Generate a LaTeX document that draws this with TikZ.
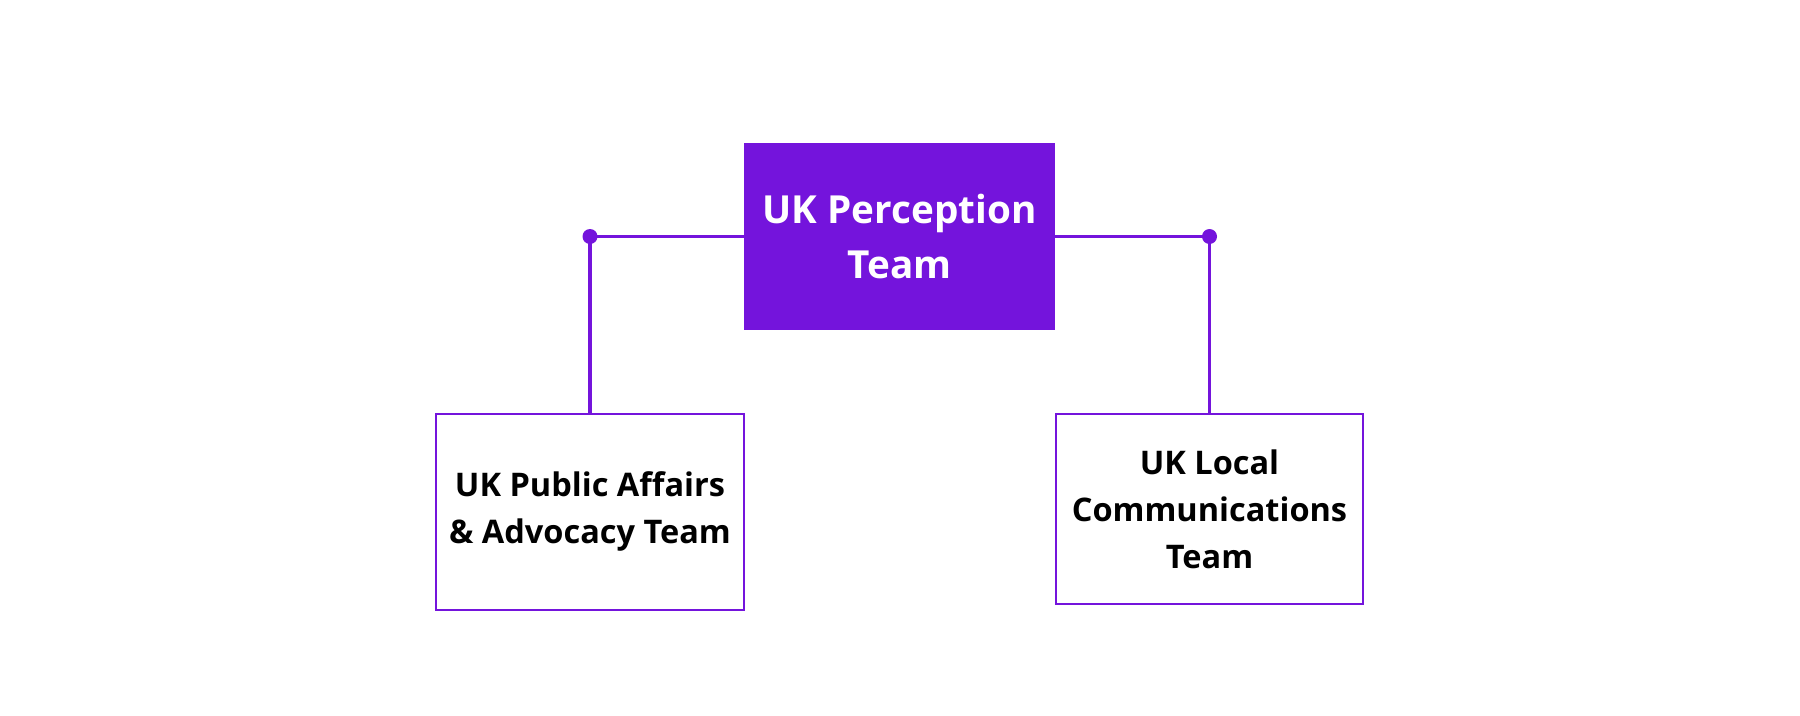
\documentclass[tikz,border=0pt]{standalone}
\usepackage{fontspec}
\setmainfont{Open Sans}
\usepackage{tikz}
\definecolor{cpurple}{HTML}{7414DC}

\begin{document}
\begin{tikzpicture}[
  lead/.style={fill=cpurple,draw=cpurple,minimum width=3.09cm,minimum height=1.86cm,
    align=center,text=white,font=\bfseries\fontsize{11}{15.6}\selectfont},
  unit/.style={draw=cpurple,line width=0.7pt,fill=white,minimum width=3.08cm,
    align=center,font=\bfseries\fontsize{9.25}{13.4}\selectfont},
  link/.style={cpurple,line width=1pt}]
  \useasboundingbox[fill=white] (0,0) rectangle (18,7.15);
  % boxes
  \node[lead] (percep) at (8.995,4.785) {UK Perception\\Team};
  \node[unit,minimum height=1.96cm] (affairs) at (5.90,2.032) {UK Public Affairs\\\& Advocacy Team};
  \node[unit,minimum width=3.07cm,minimum height=1.90cm] (local) at (12.095,2.06) {UK Local\\Communications\\Team};
  % joints
  \coordinate (ljoint) at (affairs.north |- percep.west);
  \coordinate (rjoint) at (local.north |- percep.east);
  % connectors
  \draw[link] (percep.west) -- (ljoint) -- (affairs.north);
  \draw[link] (percep.east) -- (rjoint) -- (local.north);
  \fill[cpurple] (ljoint) circle (0.075);
  \fill[cpurple] (rjoint) circle (0.075);
\end{tikzpicture}
\end{document}
